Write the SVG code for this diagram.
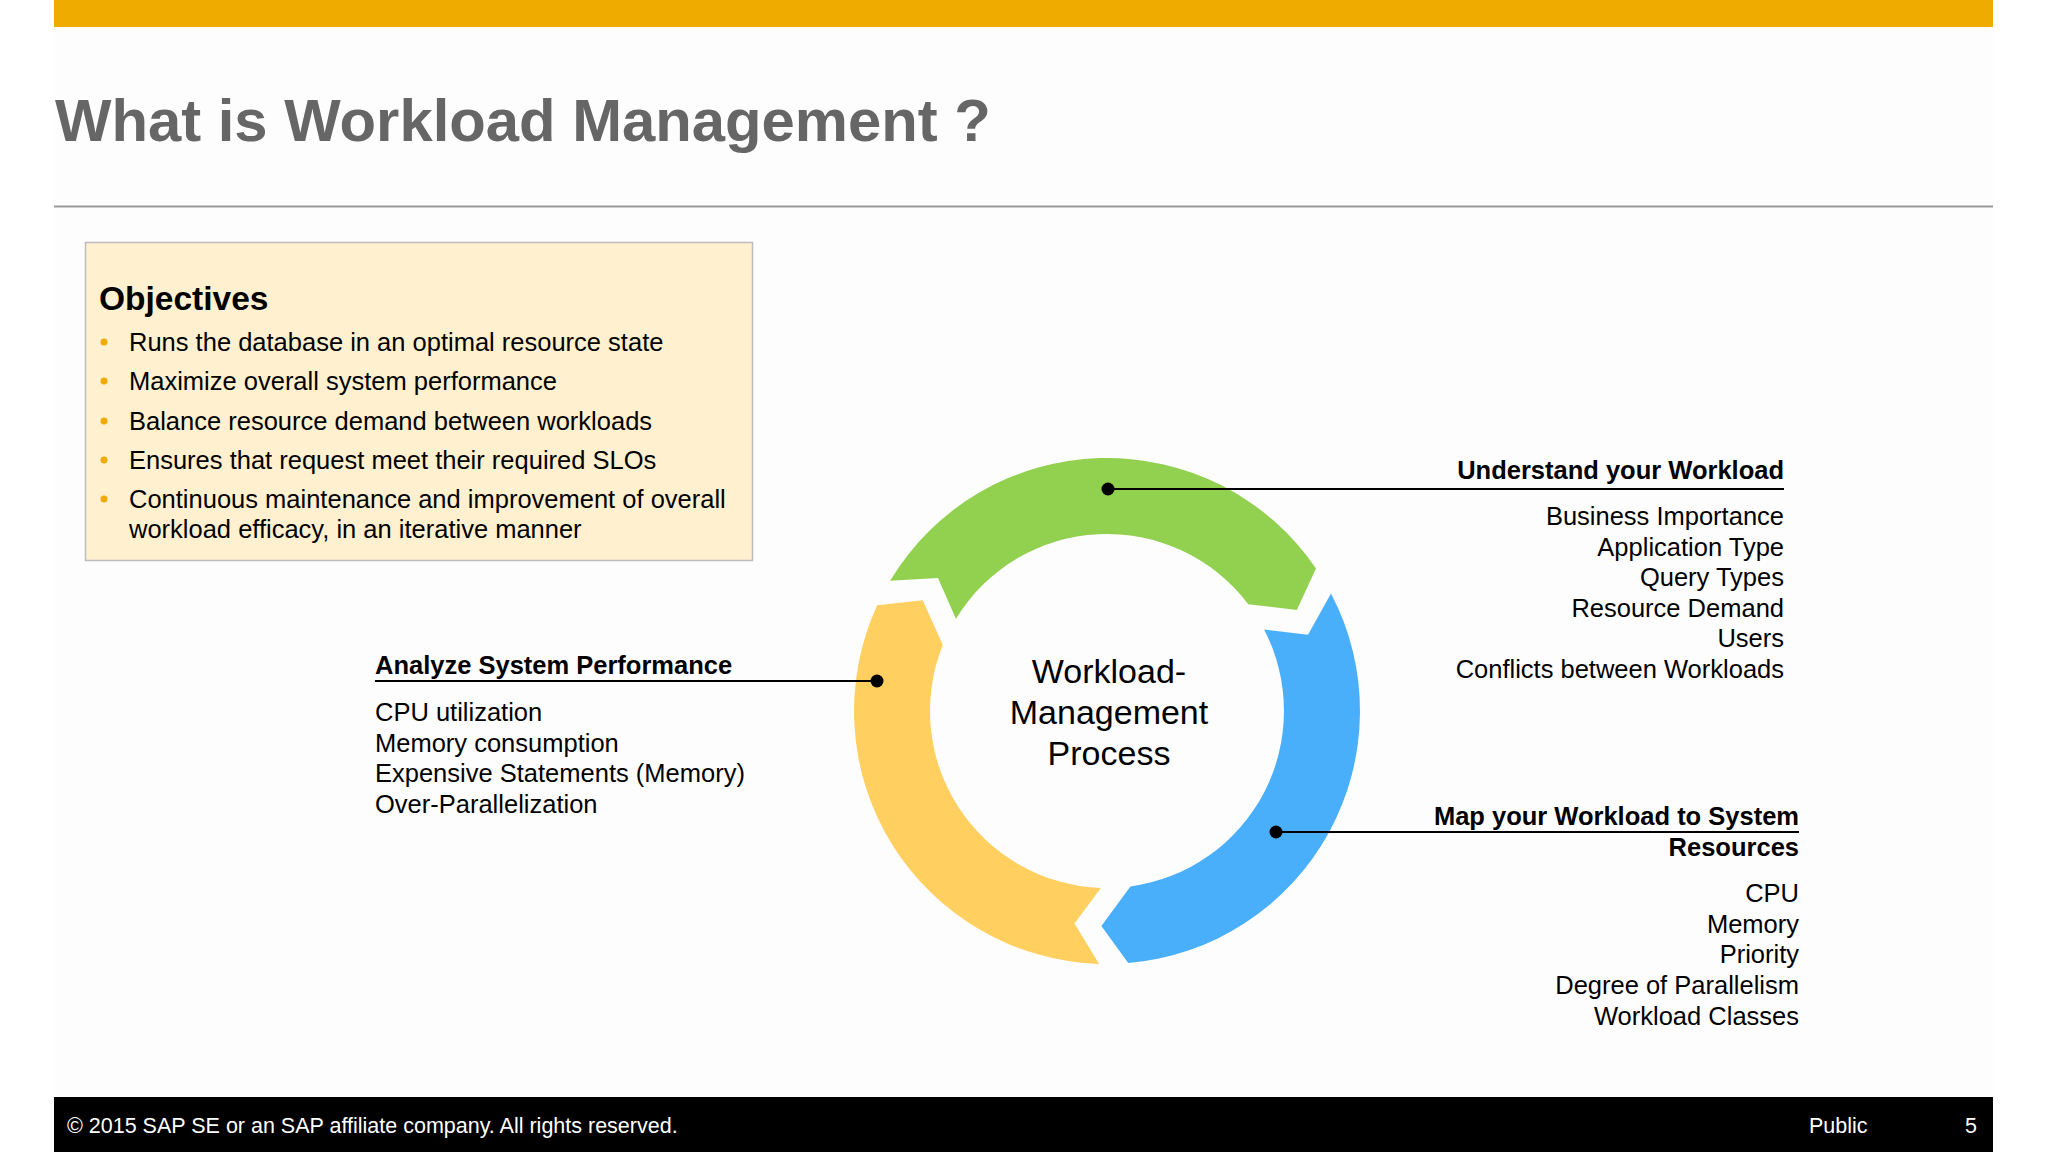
<svg xmlns="http://www.w3.org/2000/svg" width="2048" height="1152" viewBox="0 0 2048 1152">
<style>
  .t{font-family:"Liberation Sans",Arial,sans-serif;fill:#000;font-size:25.5px}
  .b{font-weight:bold}
  .r{text-anchor:end}
  .c{text-anchor:middle;font-size:34px}
  .lead{stroke:#000;stroke-width:2;fill:none}
  .dot{fill:#000}
  .f{font-family:"Liberation Sans",Arial,sans-serif;font-size:21.5px;fill:#fff}
</style>
<rect width="2048" height="1152" fill="#ffffff"/>
<rect x="54" y="0" width="1939" height="1152" fill="#fdfdfd"/>
<rect x="54" y="0" width="1939" height="27" fill="#F0AB00"/>
<text x="55" y="141" style="font-family:'Liberation Sans',Arial,sans-serif;font-weight:bold;font-size:59.8px" fill="#666666">What is Workload Management ?</text>
<line x1="54" y1="206.5" x2="1993" y2="206.5" stroke="#999999" stroke-width="2"/>

<g id="objectives">
  <rect x="85.5" y="242.5" width="667" height="318" fill="#FFF0CF" stroke="#BDBDBD" stroke-width="1.5"/>
  <text class="t b" x="99" y="310" style="font-size:33.5px">Objectives</text>
  <g fill="#F0AB00">
    <circle cx="104" cy="342" r="3.5"/>
    <circle cx="104" cy="381" r="3.5"/>
    <circle cx="104" cy="421" r="3.5"/>
    <circle cx="104" cy="460" r="3.5"/>
    <circle cx="104" cy="499" r="3.5"/>
  </g>
  <text class="t" x="129" y="351">Runs the database in an optimal resource state</text>
  <text class="t" x="129" y="390">Maximize overall system performance</text>
  <text class="t" x="129" y="430">Balance resource demand between workloads</text>
  <text class="t" x="129" y="469">Ensures that request meet their required SLOs</text>
  <text class="t" x="129" y="508">Continuous maintenance and improvement of overall</text>
  <text class="t" x="129" y="538">workload efficacy, in an iterative manner</text>
</g>

<g id="cycle">
  <path id="seg-green" fill="#92D050" d="M890.1,580.7 A253,253 0 0 1 1316.0,568.4 L1296.8,610.1 L1248.2,604.2 A177,177 0 0 0 955.9,618.8 L938.0,578.0 Z"/>
  <path id="seg-blue" fill="#4AAFFA" d="M1331.0,593.4 A253,253 0 0 1 1128.2,963.1 L1101.4,925.9 L1130.4,886.4 A177,177 0 0 0 1264.1,629.5 L1308.0,634.7 Z"/>
  <path id="seg-yellow" fill="#FFCF5F" d="M1099.1,963.9 A253,253 0 0 1 877.2,605.3 L922.7,600.3 L942.8,645.0 A177,177 0 0 0 1100.8,887.9 L1074.5,923.5 Z"/>
</g>

<g id="center">
  <text class="t c" x="1109" y="683">Workload-</text>
  <text class="t c" x="1109" y="724">Management</text>
  <text class="t c" x="1109" y="765">Process</text>
</g>

<g id="connectors">
  <line class="lead" x1="1108" y1="489" x2="1784" y2="489"/>
  <circle class="dot" cx="1108" cy="489" r="6.5"/>
  <line class="lead" x1="1276" y1="832" x2="1799" y2="832"/>
  <circle class="dot" cx="1276" cy="832" r="6.5"/>
  <line class="lead" x1="375" y1="681" x2="877" y2="681"/>
  <circle class="dot" cx="877" cy="681" r="6.5"/>
</g>

<g id="understand">
  <text class="t b r" x="1784" y="479">Understand your Workload</text>
  <text class="t r" x="1784" y="525">Business Importance</text>
  <text class="t r" x="1784" y="555.5">Application Type</text>
  <text class="t r" x="1784" y="586">Query Types</text>
  <text class="t r" x="1784" y="616.5">Resource Demand</text>
  <text class="t r" x="1784" y="647">Users</text>
  <text class="t r" x="1784" y="677.5">Conflicts between Workloads</text>
</g>

<g id="map">
  <text class="t b r" x="1799" y="825">Map your Workload to System</text>
  <text class="t b r" x="1799" y="856">Resources</text>
  <text class="t r" x="1799" y="901.5">CPU</text>
  <text class="t r" x="1799" y="932.5">Memory</text>
  <text class="t r" x="1799" y="963">Priority</text>
  <text class="t r" x="1799" y="994">Degree of Parallelism</text>
  <text class="t r" x="1799" y="1024.5">Workload Classes</text>
</g>

<g id="analyze">
  <text class="t b" x="375" y="674">Analyze System Performance</text>
  <text class="t" x="375" y="720.5">CPU utilization</text>
  <text class="t" x="375" y="751.5">Memory consumption</text>
  <text class="t" x="375" y="782">Expensive Statements (Memory)</text>
  <text class="t" x="375" y="812.5">Over-Parallelization</text>
</g>

<g id="footer">
  <rect x="54" y="1097" width="1939" height="55" fill="#000000"/>
  <text class="f" x="67" y="1133">© 2015 SAP SE or an SAP affiliate company. All rights reserved.</text>
  <text class="f" x="1809" y="1133">Public</text>
  <text class="f" x="1977" y="1133" text-anchor="end">5</text>
</g>
</svg>
